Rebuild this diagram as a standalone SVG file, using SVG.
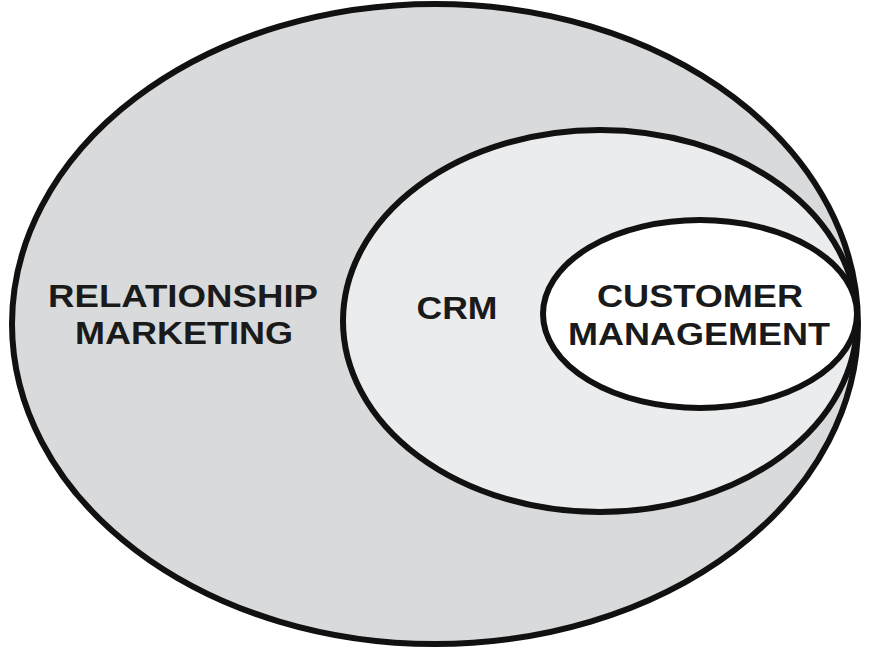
<svg xmlns="http://www.w3.org/2000/svg" width="891" height="656" viewBox="0 0 891 656">
<style>
.e{stroke:#111;stroke-width:6}
.t{font-family:"Liberation Sans",Arial,sans-serif;font-weight:bold;font-size:31px;fill:#1a1a1a;text-anchor:middle}
</style>
<rect width="891" height="656" fill="#fff"/>
<g id="relationship-marketing">
<ellipse class="e" cx="435" cy="324" rx="423" ry="320" fill="#d9dadb"/>
<text class="t" x="183" y="307" textLength="270" lengthAdjust="spacingAndGlyphs">RELATIONSHIP</text>
<text class="t" x="184" y="344" textLength="218" lengthAdjust="spacingAndGlyphs">MARKETING</text>
</g>
<g id="crm">
<ellipse class="e" cx="600" cy="321" rx="257" ry="191" fill="#ebeced"/>
<text class="t" x="457" y="319" textLength="81" lengthAdjust="spacingAndGlyphs">CRM</text>
</g>
<g id="customer-management">
<ellipse class="e" cx="700" cy="314" rx="157" ry="94" fill="#fff"/>
<text class="t" x="700" y="307" textLength="206" lengthAdjust="spacingAndGlyphs">CUSTOMER</text>
<text class="t" x="699" y="345" textLength="262" lengthAdjust="spacingAndGlyphs">MANAGEMENT</text>
</g>
<g id="connectors"/>
</svg>
